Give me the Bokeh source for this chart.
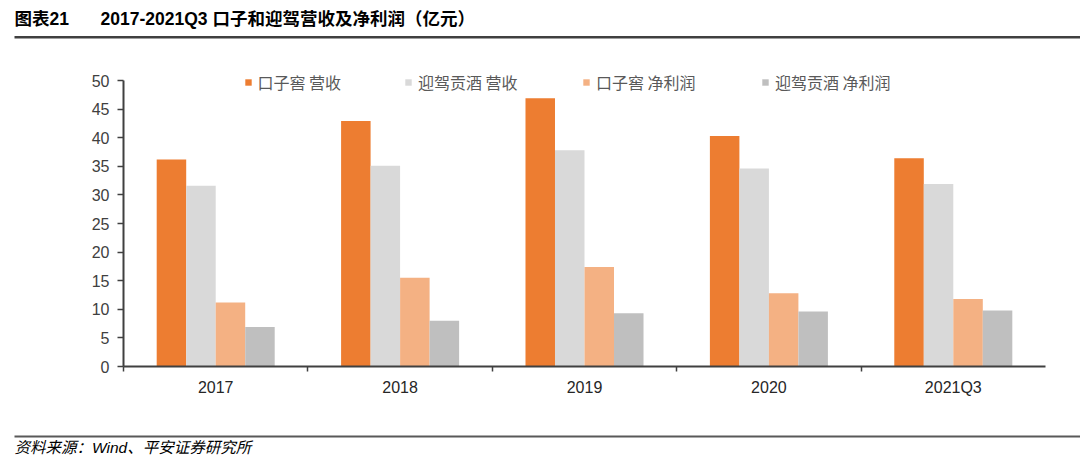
import numpy as np
from bokeh.plotting import figure
from bokeh.models import (Range1d, FixedTicker, Label, BoxAnnotation, Legend,
                          LegendItem, ColumnDataSource)
from bokeh.embed import file_html
from bokeh.resources import INLINE

# ---------------- data ----------------
categories = ["2017", "2018", "2019", "2020", "2021Q3"]
kouzi_revenue = [36.2, 42.9, 46.9, 40.3, 36.4]
yingjia_revenue = [31.6, 35.1, 37.8, 34.6, 31.9]
kouzi_profit = [11.2, 15.5, 17.4, 12.8, 11.8]
yingjia_profit = [6.9, 8.0, 9.3, 9.6, 9.8]
series_names = ["口子窖 营收", "迎驾贡酒 营收", "口子窖 净利润", "迎驾贡酒 净利润"]
y_ticks = [0, 5, 10, 15, 20, 25, 30, 35, 40, 45, 50]
y_max = 50
title_head = "图表21"
title_text = "2017-2021Q3 口子和迎驾营收及净利润（亿元）"
source_text = "资料来源：Wind、平安证券研究所"

# ---------------- styles / layout ----------------
colors = ["#ED7D31", "#D9D9D9", "#F4B183", "#BFBFBF"]
LAT = "Liberation Sans"
CJK = "Noto Sans CJK SC"
MIX = "'Liberation Sans', 'Noto Sans CJK SC'"
AXIS_COLOR = "#404040"

W, H = 1080, 458
FL, FR, FT, FB = 123, 1045, 80, 366  # plot-area edges in canvas px
n = len(categories)
px_per_x = (FR - FL) / n
px_per_y = (FB - FT) / y_max

# the frame covers the whole canvas; axes are pinned at data positions
x_range = Range1d(-FL / px_per_x, (W - FL) / px_per_x)
y_range = Range1d(-(H - FB) / px_per_y, FB / px_per_y)

p = figure(width=W, height=H, output_backend="svg", toolbar_location=None,
           x_range=x_range, y_range=y_range,
           min_border_left=0, min_border_right=0,
           min_border_top=0, min_border_bottom=0)
p.title.visible = False
p.outline_line_color = None
p.xgrid.visible = False
p.ygrid.visible = False
p.background_fill_color = "white"
p.border_fill_color = "white"

series = [kouzi_revenue, yingjia_revenue, kouzi_profit, yingjia_profit]
bar_w = 0.16
offsets = [-1.5 * bar_w, -0.5 * bar_w, 0.5 * bar_w, 1.5 * bar_w]
centers = np.arange(n) + 0.5
renderers = []
for vals, off, col in zip(series, offsets, colors):
    src = ColumnDataSource(dict(x=centers + off, top=vals))
    r = p.vbar(x="x", top="top", width=bar_w, bottom=0, source=src,
               fill_color=col, line_color=None)
    renderers.append(r)

# x axis: labels at category centres, ticks at category boundaries
xa = p.xaxis[0]
xa.fixed_location = 0
xa.bounds = (0, n)
xa.ticker = FixedTicker(ticks=list(centers), minor_ticks=list(range(0, n)))
xa.major_label_overrides = {float(c): lab for c, lab in zip(centers, categories)}
xa.major_tick_line_color = None
xa.minor_tick_line_color = AXIS_COLOR
xa.minor_tick_out = 5
xa.minor_tick_in = 0
xa.minor_tick_line_width = 1.5
xa.axis_line_color = AXIS_COLOR
xa.axis_line_width = 2
xa.major_label_text_font = LAT
xa.major_label_text_font_size = "16px"
xa.major_label_text_color = "#262626"
xa.major_label_standoff = 6

ya = p.yaxis[0]
ya.fixed_location = 0
ya.bounds = (0, y_max)
ya.ticker = FixedTicker(ticks=y_ticks)
ya.minor_tick_line_color = None
ya.major_tick_line_color = AXIS_COLOR
ya.major_tick_line_width = 1.5
ya.major_tick_out = 6
ya.major_tick_in = 0
ya.axis_line_color = AXIS_COLOR
ya.axis_line_width = 2
ya.major_label_text_font = LAT
ya.major_label_text_font_size = "16px"
ya.major_label_text_color = "#404040"
ya.major_label_standoff = 8


def sx(x):
    return x


def sy(y):
    return H - y


# legends: one per series, placed like the reference
leg_x = [243.5, 404, 582, 761]
for r, name, lx in zip(renderers, series_names, leg_x):
    lg = Legend(items=[LegendItem(label=name, renderers=[r])],
                location=(sx(lx), sy(94)), orientation="horizontal",
                padding=0, margin=0, spacing=0,
                glyph_width=8, glyph_height=8, label_standoff=6,
                label_height=20,
                label_text_font=CJK, label_text_font_size="16px",
                label_text_color="#595959",
                border_line_color=None, background_fill_alpha=0)
    p.add_layout(lg)

# title
p.add_layout(Label(x=sx(14), y=sy(18), x_units="screen", y_units="screen",
                   text=title_head, text_font=MIX, text_font_size="17.5px",
                   text_font_style="bold", text_color="#000000",
                   text_baseline="middle", text_align="left"))
p.add_layout(Label(x=sx(100), y=sy(18), x_units="screen", y_units="screen",
                   text=title_text, text_font=MIX, text_font_size="17.5px",
                   text_font_style="bold", text_color="#000000",
                   text_baseline="middle", text_align="left"))
p.add_layout(BoxAnnotation(left=sx(14), right=sx(1080), top=sy(35.5), bottom=sy(38),
                           left_units="screen", right_units="screen",
                           top_units="screen", bottom_units="screen",
                           fill_color="#404040", fill_alpha=1, line_color=None))

# source footer
p.add_layout(BoxAnnotation(left=sx(14), right=sx(1080), top=sy(435), bottom=sy(437),
                           left_units="screen", right_units="screen",
                           top_units="screen", bottom_units="screen",
                           fill_color="#595959", fill_alpha=1, line_color=None))
p.add_layout(Label(x=sx(14), y=sy(447), x_units="screen", y_units="screen",
                   text=source_text, text_font=MIX, text_font_size="15.5px",
                   text_font_style="italic", text_color="#000000",
                   text_baseline="middle", text_align="left"))

open("out.html", "w").write(file_html(p, INLINE))
